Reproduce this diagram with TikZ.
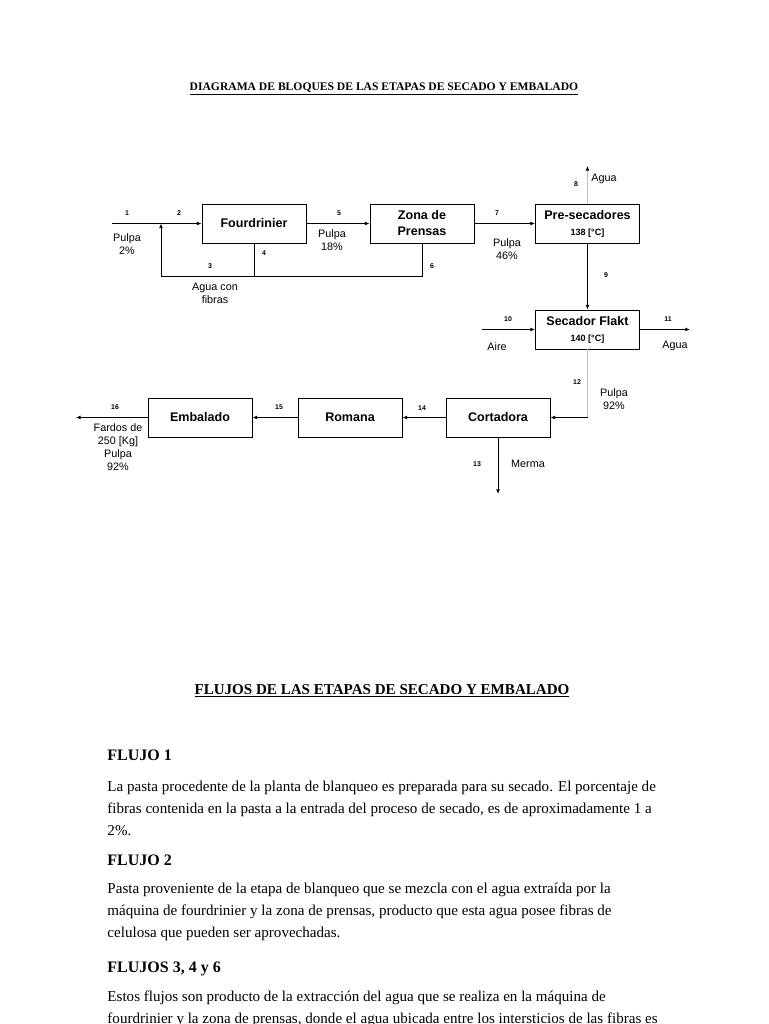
\documentclass[tikz,border=0pt]{standalone}
\usepackage{fontspec}
\setmainfont{Liberation Serif}
\newfontfamily\diagfont{Liberation Sans}
\usetikzlibrary{arrows.meta}
\definecolor{flowgray}{RGB}{190,190,190}

\begin{document}
\begin{tikzpicture}[x=0.75pt,y=-0.75pt,
    >={Latex[length=3.5pt,width=3pt]},
    line width=0.7pt,
    blk/.style={draw, minimum width=78pt, minimum height=29.25pt, inner sep=0pt, align=center,
        font=\diagfont\bfseries\fontsize{9.4}{12}\selectfont},
    num/.style={font=\diagfont\bfseries\fontsize{5.2}{6}\selectfont, inner sep=0pt},
    lab/.style={font=\diagfont\fontsize{8.1}{9.75}\selectfont, align=center, inner sep=0pt},
    head/.style={font=\bfseries\fontsize{8.7}{10}\selectfont, inner sep=0pt},
    bighead/.style={font=\bfseries\fontsize{11.3}{13}\selectfont, inner sep=0pt},
    sect/.style={font=\bfseries\fontsize{12}{14}\selectfont, inner sep=0pt, anchor=base west},
    body/.style={font=\fontsize{11.3}{16.5}\selectfont, inner sep=0pt, align=left, anchor=north west}
]
    \useasboundingbox[fill=white] (0,0) rectangle (768,1024);

    % Title
    \node[head] (title) at (384,89) {\underline{DIAGRAMA DE BLOQUES DE LAS ETAPAS DE SECADO Y EMBALADO}};

    % Blocks
    \node[blk] (fou) at (254,223.5) {Fourdrinier};
    \node[blk] (zon) at (422,223.5) {Zona de\\Prensas};
    \node[blk] (pre) at (587.5,223.5) {Pre-secadores\\{\fontsize{6.8}{8}\selectfont 138 [°C]}};
    \node[blk] (sec) at (587.5,329.5) {Secador Flakt\\{\fontsize{6.8}{8}\selectfont 140 [°C]}};
    \node[blk] (cor) at (498,417.5) {Cortadora};
    \node[blk] (rom) at (350,417.5) {Romana};
    \node[blk] (emb) at (200,417.5) {Embalado};

    % Free ends and corners
    \coordinate (in1) at (112,223.5);
    \coordinate (j2) at (161,223.5);
    \coordinate (r3) at (161,276);
    \coordinate (r4) at (254,276);
    \coordinate (out8) at (587.5,166);
    \coordinate (in10) at (482,329.5);
    \coordinate (out11) at (690,329.5);
    \coordinate (c12) at (587.5,417.5);
    \coordinate (out13) at (498,494);
    \coordinate (out16) at (76,417.5);

    % Streams
    \draw[->] (in1) -- (fou.west);
    \draw[->] (zon.south) |- (r3) -- (j2);
    \draw (fou.south) -- (r4);
    \draw[->] (fou.east) -- (zon.west);
    \draw[->] (zon.east) -- (pre.west);
    \draw[flowgray, -{Latex[length=3.5pt,width=3pt,black]}] (pre.north) -- (out8);
    \draw[->] (pre.south) -- (sec.north);
    \draw[->] (in10) -- (sec.west);
    \draw[->] (sec.east) -- (out11);
    \draw[flowgray] (sec.south) -- (c12);
    \draw[->] (c12) -- (cor.east);
    \draw[->] (cor.south) -- (out13);
    \draw[->] (cor.west) -- (rom.east);
    \draw[->] (rom.west) -- (emb.east);
    \draw[->] (emb.west) -- (out16);

    % Stream numbers
    \node[num] (n1) at (127,213) {1};
    \node[num] (n2) at (179,213) {2};
    \node[num] (n3) at (210,266) {3};
    \node[num] (n4) at (264,253) {4};
    \node[num] (n5) at (339,213) {5};
    \node[num] (n6) at (432,266) {6};
    \node[num] (n7) at (497,213) {7};
    \node[num] (n8) at (576,184) {8};
    \node[num] (n9) at (606,275) {9};
    \node[num] (n10) at (508,319) {10};
    \node[num] (n11) at (668,319) {11};
    \node[num] (n12) at (577,382) {12};
    \node[num] (n13) at (477,464) {13};
    \node[num] (n14) at (422,408) {14};
    \node[num] (n15) at (279,407) {15};
    \node[num] (n16) at (115,407) {16};

    % Stream labels
    \node[lab] (l1) at (127,244.5) {Pulpa\\2\%};
    \node[lab] (l3) at (215,293) {Agua con\\fibras};
    \node[lab] (l5) at (332,240.5) {Pulpa\\18\%};
    \node[lab] (l7) at (507,249) {Pulpa\\46\%};
    \node[lab] (l8) at (604,179) {Agua};
    \node[lab] (l10) at (497,347) {Aire};
    \node[lab] (l11) at (675,346) {Agua};
    \node[lab] (l12) at (614,399.5) {Pulpa\\92\%};
    \node[lab] (l13) at (528,464) {Merma};
    \node[lab] (l16) at (118,447) {Fardos de\\250 [Kg]\\Pulpa\\92\%};

    % Text below
    \node[bighead] (flu) at (382,691) {\underline{FLUJOS DE LAS ETAPAS DE SECADO Y EMBALADO}};

    \node[sect] (f1) at (107,760) {FLUJO 1};
    \node[body] (p1) at (107,781) {La pasta procedente de la planta de blanqueo es preparada para su secado. El porcentaje de\\
        fibras contenida en la pasta a la entrada del proceso de secado, es de aproximadamente 1 a\\
        2\%.};

    \node[sect] (f2) at (107,865) {FLUJO 2};
    \node[body] (p2) at (107,883) {Pasta proveniente de la etapa de blanqueo que se mezcla con el agua extraída por la\\
        máquina de fourdrinier y la zona de prensas, producto que esta agua posee fibras de\\
        celulosa que pueden ser aprovechadas.};

    \node[sect] (f3) at (107,972) {FLUJOS 3, 4 y 6};
    \node[body] (p3) at (107,990) {Estos flujos son producto de la extracción del agua que se realiza en la máquina de\\
        fourdrinier y la zona de prensas, donde el agua ubicada entre los intersticios de las fibras es};
\end{tikzpicture}
\end{document}
